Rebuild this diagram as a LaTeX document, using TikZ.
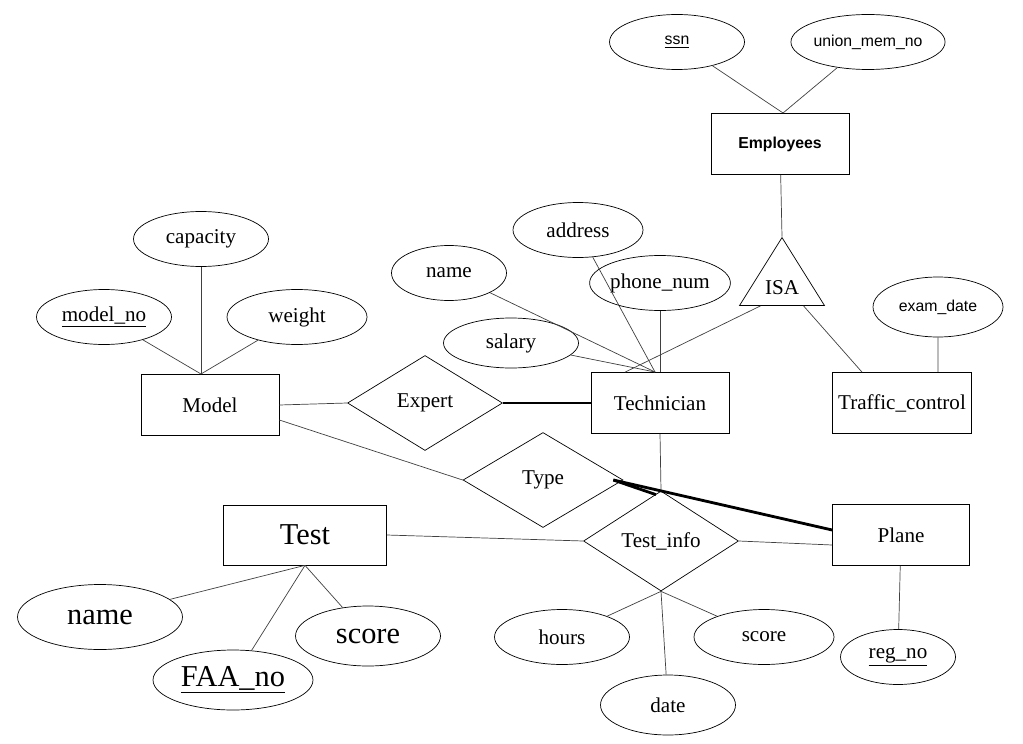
\documentclass[tikz,border=0pt]{standalone}
\usepackage{fontspec}
\setmainfont{Liberation Serif}
\newfontfamily\sansf{Liberation Sans}
\usetikzlibrary{shapes.geometric, calc}

\begin{document}
\begin{tikzpicture}[
        x=0.02cm, y=-0.02cm,
        entity/.style={
            rectangle,
            draw,
            minimum width=2.76cm,
            minimum height=1.22cm,
            font=\large
        },
        attr/.style={
            ellipse,
            draw,
            minimum width=2.7cm,
            minimum height=1.1cm,
            inner sep=0pt,
            font=\large
        },
        rel/.style={
            diamond,
            draw,
            aspect=1.65,
            minimum width=3.1cm,
            minimum height=1.9cm,
            inner sep=0pt,
            font=\large
        },
        link/.style={draw=black!75},
        heavy/.style={line width=1.6pt}
    ]
        \useasboundingbox (0,0) rectangle (1023,743);

        % Entities
        \node[entity, font=\sansf\small\bfseries] (employees) at (780,144) {Employees};
        \node[entity] (technician) at (660,403) {Technician};
        \node[entity] (traffic) at (902,403) {Traffic\_control};
        \node[entity] (model) at (210,405) {Model};
        \node[entity, minimum width=3.26cm, minimum height=1.2cm, font=\LARGE] (test) at (305,535) {Test};
        \node[entity, minimum width=2.74cm] (plane) at (901,535) {Plane};

        % Relationships
        \node[rel] (expert) at (425,403) {Expert};
        \node[rel, minimum width=3.2cm] (type) at (543,480) {Type};
        \node[rel, minimum height=2cm] (testinfo) at (661,541) {Test\_info};
        \node[isosceles triangle, draw, shape border rotate=90, isosceles triangle stretches,
              minimum width=1.7cm, minimum height=1.36cm, inner sep=0pt] (isa) at (782,282) {};
        \node[font=\large] at (782,288) {ISA};

        % Attributes
        \node[attr, font=\sansf\small] (ssn) at (677,42) {\underline{\smash{ssn}}\vphantom{p}};
        \node[attr, minimum width=2.8cm, font=\sansf\small] (unionno) at (868,42) {union\_mem\_no};
        \node[attr, minimum width=2.6cm, minimum height=1.2cm, font=\sansf\small] (examdate) at (938,307) {exam\_date};
        \node[attr, minimum width=2.6cm] (address) at (578,230) {address};
        \node[attr, minimum width=2.3cm] (tname) at (449,273) {name};
        \node[attr, minimum width=2.3cm] (phone) at (660,283) {phone\_num};
        \node[attr, minimum height=1cm] (salary) at (511,343) {salary};
        \node[attr] (capacity) at (201,239) {capacity};
        \node[attr] (modelno) at (104,317) {\underline{model\_no}};
        \node[attr, minimum width=2.8cm] (weight) at (297,317) {weight};
        \node[attr, minimum width=3.3cm, minimum height=1.3cm, font=\LARGE] (name) at (100,617) {name};
        \node[attr, minimum width=3.2cm, minimum height=1.2cm, font=\LARGE] (faano) at (233,680) {\underline{FAA\_no}};
        \node[attr, minimum width=2.9cm, minimum height=1.2cm, font=\LARGE] (score) at (368,636) {score};
        \node[attr] (hours) at (562,637) {hours};
        \node[attr, minimum height=1.2cm] (date) at (668,705) {date};
        \node[attr, minimum width=2.8cm] (iscore) at (764,637) {score};
        \node[attr, minimum width=2.3cm] (regno) at (898,657) {\underline{reg\_no}};

        % Links
        \coordinate (empjoin) at (783,113);
        \draw[link] (ssn) -- (empjoin);
        \draw[link] (unionno) -- (empjoin);
        \draw[link] (employees) -- (isa.apex);
        \draw[link] ($(isa.left corner)!0.25!(isa.right corner)$) -- ([xshift=-0.7cm]technician.north);
        \draw[link] ($(isa.left corner)!0.75!(isa.right corner)$) -- ([xshift=-0.8cm]traffic.north);
        \draw[link] (examdate) -- ([xshift=0.72cm]traffic.north);
        \coordinate (techjoin) at (655,372);
        \draw[link] (address) -- (techjoin);
        \draw[link] (tname) -- (techjoin);
        \draw[link] (salary) -- (techjoin);
        \draw[link] (phone) -- (technician.north);
        \coordinate (modeljoin) at (201,374);
        \draw[link] (capacity) -- (modeljoin);
        \draw[link] (modelno) -- (modeljoin);
        \draw[link] (weight) -- (modeljoin);
        \draw[link] (model.east) -- (expert.west);
        \draw[heavy] (expert.east) -- (technician.west);
        \draw[link] ([yshift=-0.3cm]model.east) -- (type.west);
        \draw[link] (technician.south) -- (testinfo.north);
        \draw[heavy] ([yshift=0.1cm]plane.west) -- ([xshift=-0.2cm]type.east);
        \draw[heavy] ([xshift=-0.1cm,yshift=-0.08cm]testinfo.north) -- ([xshift=-0.2cm]type.east);
        \draw[link] (test.east) -- (testinfo.west);
        \draw[link] (testinfo.east) -- ([yshift=-0.2cm]plane.west);
        \draw[link] (test.south) -- (name);
        \draw[link] (test.south) -- (faano);
        \draw[link] (test.south) -- (score);
        \draw[link] (testinfo.south) -- (hours);
        \draw[link] (testinfo.south) -- (date);
        \draw[link] (testinfo.south) -- (iscore);
        \draw[link] (plane) -- (regno);
    \end{tikzpicture}
\end{document}
